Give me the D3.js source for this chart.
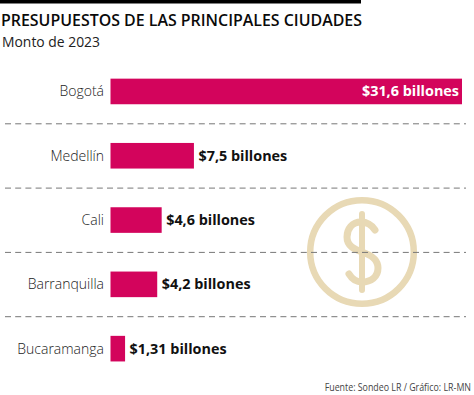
<!DOCTYPE html>
<html><head><meta charset="utf-8">
<script src="https://cdn.jsdelivr.net/npm/d3@7"></script>
<style>html,body{margin:0;padding:0;background:#fff}svg{display:block;font-family:"Open Sans",sans-serif}</style>
</head><body><div id="c"></div>
<script>
const categories=["Bogotá","Medellín","Cali","Barranquilla","Bucaramanga"];
const values=[31.6,7.5,4.6,4.2,1.31];
const valueLabels=["$31,6 billones","$7,5 billones","$4,6 billones","$4,2 billones","$1,31 billones"];
const title="PRESUPUESTOS DE LAS PRINCIPALES CIUDADES";
const subtitle="Monto de 2023";
const source="Fuente: Sondeo LR / Gráfico: LR-MN";

const W=474,H=395;
const svg=d3.select("#c").append("svg").attr("width",W).attr("height",H);
svg.append("rect").attr("width",W).attr("height",H).attr("fill","#fff");
svg.append("rect").attr("x",0).attr("y",0).attr("width",361).attr("height",3.5).attr("fill","#000");
svg.append("text").attr("x",1).attr("y",26).attr("font-size",16).attr("font-weight",600).attr("fill","#0a0a0a")
  .attr("textLength",361).attr("lengthAdjust","spacingAndGlyphs").text(title);
svg.append("text").attr("x",2).attr("y",46.5).attr("font-size",14.5).attr("fill","#222")
  .attr("textLength",98).attr("lengthAdjust","spacingAndGlyphs").text(subtitle);

const x=d3.scaleLinear().domain([0,31.6]).range([110.5,462]);
const y2=d3.scaleBand().domain(categories).range([59.5,381]);

// decorative icon
const icon=svg.append("g").attr("fill","none").attr("stroke","#e8d9b5").attr("stroke-linecap","round");
icon.append("circle").attr("cx",362).attr("cy",252).attr("r",51.8).attr("stroke-width",6.5);
icon.append("line").attr("x1",362).attr("x2",362).attr("y1",214).attr("y2",290).attr("stroke-width",6);
icon.append("path").attr("stroke-width",7)
  .attr("d","M375 230C371 224 367 222 361 222C352 222 347 229 347 237C347 246 354 249 362 252C371 255 378 259 378 268C378 277 371 282 362 282C356 282 352 279 349 274");

// separators
svg.append("g").selectAll("line").data(categories.slice(1)).join("line")
  .attr("x1",5).attr("x2",466)
  .attr("y1",d=>y2(d)).attr("y2",d=>y2(d))
  .attr("stroke","#777").attr("stroke-width",1).attr("stroke-dasharray","6 4.2");

const cy=d=>y2(d)+y2.bandwidth()/2-0.2;
const row=svg.append("g").selectAll("g").data(categories).join("g");
row.append("rect").attr("x",x(0))
  .attr("y",d=>cy(d)-12.8).attr("height",25.6)
  .attr("width",(d,i)=>x(values[i])-x(0)).attr("fill","#d3045c");
row.append("text").attr("x",104).attr("y",cy).attr("dy","0.35em").attr("text-anchor","end")
  .attr("font-size",14).attr("font-weight",300).attr("fill","#222").text(d=>d);
row.append("text")
  .attr("x",(d,i)=>i===0?x(values[i])-3:x(values[i])+4.5)
  .attr("y",cy).attr("dy","0.35em")
  .attr("text-anchor",(d,i)=>i===0?"end":"start")
  .attr("font-size",14.4).attr("font-weight",700)
  .attr("fill",(d,i)=>i===0?"#fff":"#111")
  .text((d,i)=>valueLabels[i]);
const src=svg.append("text").attr("text-anchor","end").attr("font-size",11).attr("fill","#444").text(source);
const sx=146.5/src.node().getComputedTextLength();
src.attr("transform",`translate(471,391) scale(${sx},1)`);
</script></body></html>
